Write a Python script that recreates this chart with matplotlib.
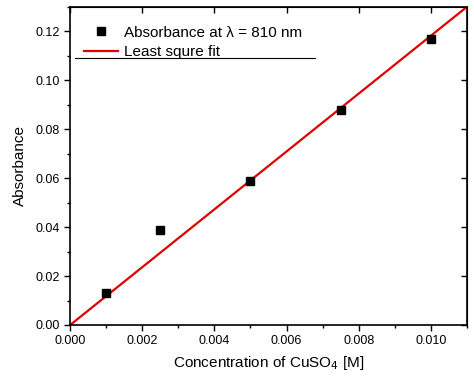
import numpy as np
import matplotlib.pyplot as plt
from matplotlib.lines import Line2D
from matplotlib.ticker import MultipleLocator

plt.rcParams['font.family'] = ['Liberation Sans', 'DejaVu Sans']

# measured absorbance
conc = [0.001, 0.0025, 0.005, 0.0075, 0.010]
absorb = [0.013, 0.039, 0.059, 0.088, 0.117]

# least square fit line (end points)
fit_x = [0.0, 0.011]
fit_y = [0.0, 0.130]

fig = plt.figure(figsize=(4.74, 3.81), dpi=100)
ax = fig.add_axes([0.148, 0.147, 0.837, 0.835])

ax.plot(fit_x, fit_y, color='#e00000', lw=1.6, label='Least squre fit', zorder=2)
ax.plot(conc, absorb, 's', color='black', ms=6, label='Absorbance at λ = 810 nm', zorder=3)

ax.set_xlim(0, 0.011)
ax.set_ylim(0, 0.13)
ax.xaxis.set_major_locator(MultipleLocator(0.002))
ax.xaxis.set_minor_locator(MultipleLocator(0.001))
ax.yaxis.set_major_locator(MultipleLocator(0.02))
ax.yaxis.set_minor_locator(MultipleLocator(0.01))
ax.xaxis.set_major_formatter(plt.FuncFormatter(lambda v, p: '%.3f' % v))
ax.yaxis.set_major_formatter(plt.FuncFormatter(lambda v, p: '%.2f' % v))
ax.tick_params(which='major', direction='out', length=4, width=1, labelsize=9)
ax.tick_params(which='minor', direction='out', length=2.5, width=1)
for s in ax.spines.values():
    s.set_linewidth(1.2)

# mirrored ticks on top and right (inward, no labels)
top = ax.secondary_xaxis('top')
top.xaxis.set_major_locator(MultipleLocator(0.002))
top.tick_params(direction='in', length=4, width=1, labeltop=False)
right = ax.secondary_yaxis('right')
right.yaxis.set_major_locator(MultipleLocator(0.02))
right.tick_params(direction='in', length=4, width=1, labelright=False)

ax.set_xlabel('Concentration of CuSO$_4$ [M]', fontsize=11, labelpad=5)
ax.set_ylabel('Absorbance', fontsize=11, labelpad=6)

h, l = ax.get_legend_handles_labels()
ax.legend(h[::-1], l[::-1], loc='upper left', bbox_to_anchor=(0.012, 0.97),
          frameon=False, fontsize=11, handlelength=2.2, handletextpad=0.4,
          labelspacing=0.35, borderaxespad=0.2)
ax.add_line(Line2D([0.013, 0.617], [0.84, 0.84], transform=ax.transAxes,
                   color='black', lw=0.8))

fig.savefig('out.png', dpi=100)
